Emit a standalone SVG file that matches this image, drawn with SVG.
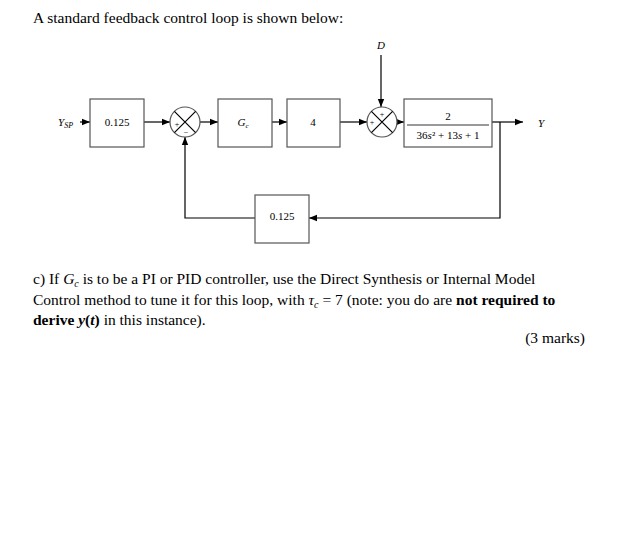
<svg xmlns="http://www.w3.org/2000/svg" width="617" height="538" viewBox="0 0 617 538">
<style>
.b{fill:#fff;stroke:#555;stroke-width:1.2}
.l{fill:none;stroke:#000;stroke-width:1.2}
.t{font-family:"Liberation Serif",serif;fill:#000}
.s{font-family:"Liberation Sans",sans-serif;font-size:10px}
</style>
<defs><marker id="a" viewBox="0 0 10 10" refX="10" refY="5" markerWidth="7" markerHeight="7" orient="auto"><path d="M0,1 L10,5 L0,9z" fill="#000"/></marker></defs>
<rect width="617" height="538" fill="#fff"/>
<text class="t" x="33" y="23" font-size="15.5">A standard feedback control loop is shown below:</text>
<g id="connectors">
<path class="l" d="M80,122 H90" marker-end="url(#a)"/>
<path class="l" d="M144,122 H170" marker-end="url(#a)"/>
<path class="l" d="M200,122 H218" marker-end="url(#a)"/>
<path class="l" d="M272,122 H287" marker-end="url(#a)"/>
<path class="l" d="M340,122 H367" marker-end="url(#a)"/>
<path class="l" d="M381,55 V107" marker-end="url(#a)"/>
<path class="l" d="M397,122 H404" marker-end="url(#a)"/>
<path class="l" d="M492,122 H523" marker-end="url(#a)"/>
<path class="l" d="M500,122 V218 H309" marker-end="url(#a)"/>
<path class="l" d="M255,218 H185 V137" marker-end="url(#a)"/>
</g>
<g id="ysp"><text class="t" x="58" y="126" font-size="11" font-style="italic">Y<tspan font-size="8" dy="2">SP</tspan></text></g>
<g id="k1"><rect class="b" x="90" y="99" width="54" height="48"/><text class="t" x="117" y="126" font-size="11" text-anchor="middle">0.125</text></g>
<g id="sum1"><circle class="b" cx="185" cy="122" r="15"/><path class="l" stroke="#555" d="M174.4,111.4 L195.6,132.6 M195.6,111.4 L174.4,132.6"/><text class="t" x="177" y="127" font-size="8" text-anchor="middle">+</text><text class="t" x="186" y="135" font-size="8" text-anchor="middle">−</text></g>
<g id="gc"><rect class="b" x="218" y="99" width="54" height="48"/><text class="t" x="243" y="126" font-size="11" font-style="italic" text-anchor="middle">G<tspan font-size="7" dy="2">c</tspan></text></g>
<g id="k4"><rect class="b" x="287" y="99" width="53" height="48"/><text class="t" x="313" y="126" font-size="11" text-anchor="middle">4</text></g>
<g id="d"><text class="t" x="381" y="49" font-size="11" font-style="italic" text-anchor="middle">D</text></g>
<g id="sum2"><circle class="b" cx="382" cy="122" r="15"/><path class="l" stroke="#555" d="M371.4,111.4 L392.6,132.6 M392.6,111.4 L371.4,132.6"/><text class="t" x="382" y="117" font-size="8" text-anchor="middle">+</text><text class="t" x="372" y="125" font-size="8" text-anchor="middle">+</text></g>
<g id="plant"><rect class="b" x="404" y="99" width="88" height="48"/><text class="t" x="448" y="120" font-size="11" text-anchor="middle">2</text><line x1="407" y1="125" x2="489" y2="125" stroke="#000" stroke-width="0.8"/><text class="t" x="448" y="139" font-size="11" text-anchor="middle">36<tspan font-style="italic">s</tspan>² + 13<tspan font-style="italic">s</tspan> + 1</text></g>
<g id="y"><text class="t" x="538" y="127" font-size="11" font-style="italic">Y</text></g>
<g id="kf"><rect class="b" x="255" y="195" width="54" height="48"/><text class="t" x="282" y="220" font-size="11" text-anchor="middle">0.125</text></g>
<text class="t" x="33" y="284" font-size="15.5">c) If <tspan font-style="italic">G<tspan font-size="10" dy="3">c</tspan></tspan><tspan dy="-3"> is to be a PI or PID controller, use the Direct Synthesis or Internal Model</tspan></text>
<text class="t" x="33" y="305" font-size="15.5">Control method to tune it for this loop, with <tspan font-style="italic">τ<tspan font-size="10" dy="3">c</tspan></tspan><tspan dy="-3"> = 7 (note: you do are </tspan><tspan font-weight="bold">not required to</tspan></text>
<text class="t" x="33" y="325" font-size="15.5"><tspan font-weight="bold">derive <tspan font-style="italic">y</tspan>(<tspan font-style="italic">t</tspan>)</tspan> in this instance).</text>
<text class="t" x="585" y="343" font-size="15.5" text-anchor="end">(3 marks)</text>
</svg>
